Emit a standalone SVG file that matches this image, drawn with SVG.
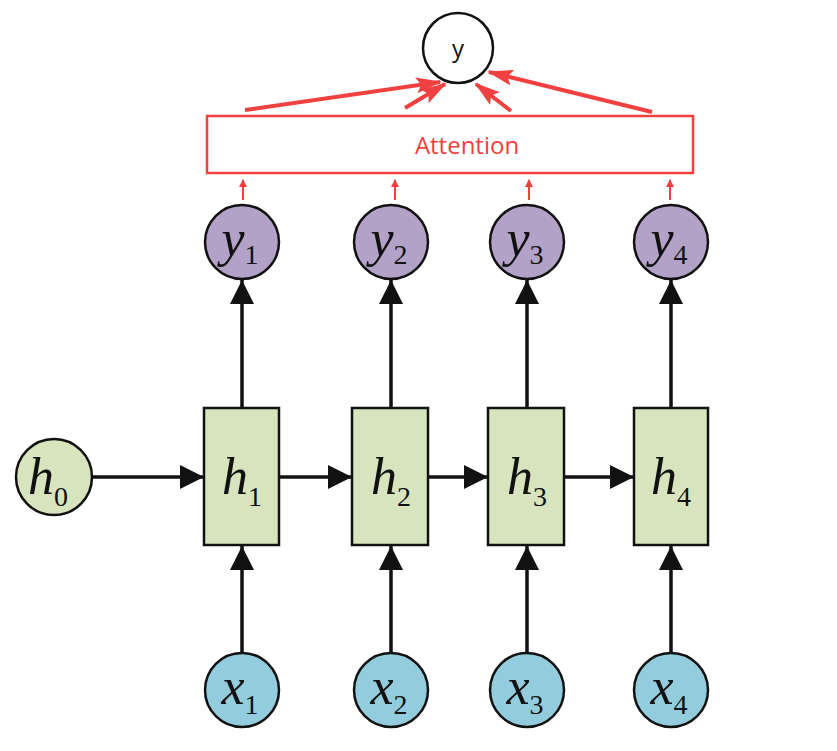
<svg xmlns="http://www.w3.org/2000/svg" width="837" height="751" viewBox="0 0 837 751">
<style>
.h{fill:#d7e4bd;stroke:#111;stroke-width:2.5}
.y{fill:#b3a2c7;stroke:#111;stroke-width:2.5}
.x{fill:#93cddd;stroke:#111;stroke-width:2.5}
.t{font-family:"Liberation Serif",serif;font-style:italic;font-size:52px;fill:#111;text-anchor:middle}
.s{font-family:"Liberation Serif",serif;font-size:28px;fill:#111}
.r{stroke:#f04040;stroke-width:4;fill:none;marker-end:url(#ra)}
.rs{stroke:#f04040;stroke-width:2;fill:none;marker-end:url(#rs)}
</style>
<defs>
<marker id="ra" markerWidth="26" markerHeight="20" refX="24" refY="10" orient="auto" markerUnits="userSpaceOnUse"><path d="M0,2L26,10L0,18L5,10z" fill="#f04040"/></marker>
<marker id="rs" markerWidth="8" markerHeight="8" refX="7" refY="4" orient="auto" markerUnits="userSpaceOnUse"><path d="M0,0L8,4L0,8z" fill="#f04040"/></marker>
</defs>
<rect width="837" height="751" fill="#fff"/>
<g id="connectors">
<path d="M92,477H204" stroke="#111" stroke-width="3.5"/><path d="M180,465L204,477L180,489z" fill="#111"/>
<path d="M279,477H352" stroke="#111" stroke-width="3.5"/><path d="M328,465L352,477L328,489z" fill="#111"/>
<path d="M428,477H488" stroke="#111" stroke-width="3.5"/><path d="M464,465L488,477L464,489z" fill="#111"/>
<path d="M564,477H634" stroke="#111" stroke-width="3.5"/><path d="M610,465L634,477L610,489z" fill="#111"/>
<path d="M242,408V279M391,408V279M527,408V279M671,408V279" stroke="#111" stroke-width="3.5"/>
<path d="M230,304L242,280L254,304zM379,304L391,280L403,304zM515,304L527,280L539,304zM659,304L671,280L683,304z" fill="#111"/>
<path d="M242,653V546M391,653V546M527,653V546M671,653V546" stroke="#111" stroke-width="3.5"/>
<path d="M230,570L242,546L254,570zM379,570L391,546L403,570zM515,570L527,546L539,570zM659,570L671,546L683,570z" fill="#111"/>
<path class="rs" d="M243,200V180"/>
<path class="rs" d="M395,200V180"/>
<path class="rs" d="M529,200V180"/>
<path class="rs" d="M670,200V180"/>
<path class="r" d="M245,110L440,82"/>
<path class="r" d="M405,108L445,84"/>
<path class="r" d="M511,111L476,84"/>
<path class="r" d="M652,112L489,72"/>
</g>
<g id="attention"><rect x="207" y="116" width="486" height="57" fill="#fff" stroke="#f04040" stroke-width="2.5"/><text x="467" y="154" font-family="Open Sans,sans-serif" font-size="24" fill="#f04040" text-anchor="middle">Attention</text></g>
<g id="y"><circle cx="458" cy="48" r="35" fill="#fff" stroke="#111" stroke-width="2.5"/><text x="458" y="57" font-family="Open Sans,sans-serif" font-size="24" fill="#111" text-anchor="middle">y</text></g>
<g id="h0"><circle class="h" cx="54" cy="477" r="38"/><text class="t" x="48" y="494">h<tspan class="s" font-style="normal" dy="12">0</tspan></text></g>
<g id="h1"><rect class="h" x="204" y="408" width="75" height="137"/><text class="t" x="242" y="494">h<tspan class="s" font-style="normal" dy="12">1</tspan></text></g>
<g id="h2"><rect class="h" x="352" y="408" width="76" height="137"/><text class="t" x="391" y="494">h<tspan class="s" font-style="normal" dy="12">2</tspan></text></g>
<g id="h3"><rect class="h" x="488" y="408" width="76" height="137"/><text class="t" x="527" y="494">h<tspan class="s" font-style="normal" dy="12">3</tspan></text></g>
<g id="h4"><rect class="h" x="634" y="408" width="74" height="137"/><text class="t" x="671" y="494">h<tspan class="s" font-style="normal" dy="12">4</tspan></text></g>
<g id="y1"><circle class="y" cx="242" cy="242" r="37"/><text class="t" x="240" y="256">y<tspan class="s" font-style="normal" dy="8">1</tspan></text></g>
<g id="y2"><circle class="y" cx="391" cy="242" r="37"/><text class="t" x="389" y="256">y<tspan class="s" font-style="normal" dy="8">2</tspan></text></g>
<g id="y3"><circle class="y" cx="527" cy="242" r="37"/><text class="t" x="525" y="256">y<tspan class="s" font-style="normal" dy="8">3</tspan></text></g>
<g id="y4"><circle class="y" cx="671" cy="242" r="37"/><text class="t" x="669" y="256">y<tspan class="s" font-style="normal" dy="8">4</tspan></text></g>
<g id="x1"><circle class="x" cx="242" cy="690" r="37"/><text class="t" x="240" y="704">x<tspan class="s" font-style="normal" dy="10">1</tspan></text></g>
<g id="x2"><circle class="x" cx="391" cy="690" r="37"/><text class="t" x="389" y="704">x<tspan class="s" font-style="normal" dy="10">2</tspan></text></g>
<g id="x3"><circle class="x" cx="527" cy="690" r="37"/><text class="t" x="525" y="704">x<tspan class="s" font-style="normal" dy="10">3</tspan></text></g>
<g id="x4"><circle class="x" cx="671" cy="690" r="37"/><text class="t" x="669" y="704">x<tspan class="s" font-style="normal" dy="10">4</tspan></text></g>
</svg>
